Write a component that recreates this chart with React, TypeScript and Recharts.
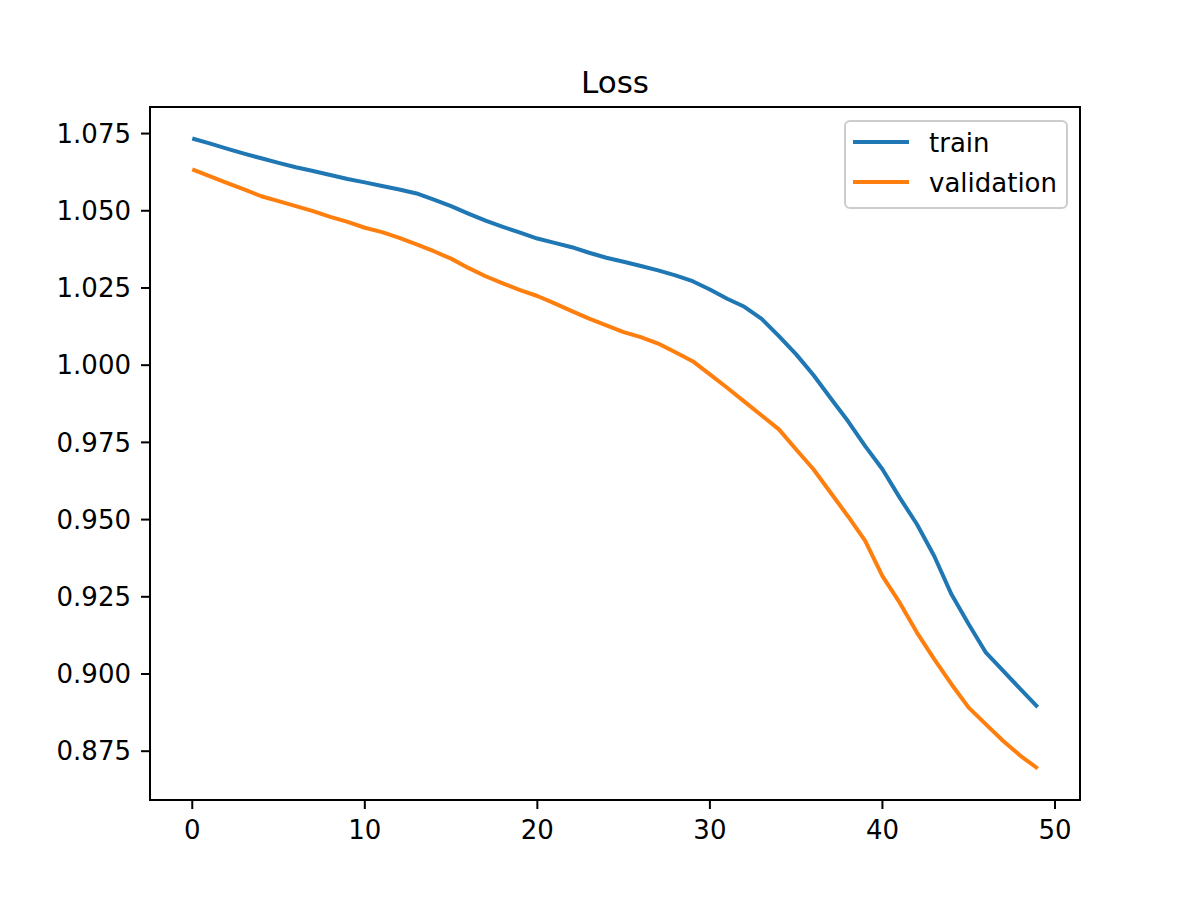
import React from 'react';
import { LineChart, Line, XAxis, YAxis, Legend, ReferenceArea } from 'recharts';

const epochs = Array.from({ length: 50 }, (_, i) => i);

const trainLoss = [
  1.0734, 1.0718, 1.0701, 1.0685, 1.0670, 1.0655, 1.0641, 1.0629, 1.0616, 1.0603,
  1.0592, 1.0580, 1.0569, 1.0556, 1.0536, 1.0515, 1.0491, 1.0468, 1.0448, 1.0429,
  1.0410, 1.0396, 1.0382, 1.0364, 1.0348, 1.0335, 1.0321, 1.0307, 1.0291, 1.0272,
  1.0245, 1.0215, 1.0189, 1.0150, 1.0094, 1.0035, 0.9968, 0.9893, 0.9819, 0.9738,
  0.9663, 0.9571, 0.9485, 0.9382, 0.9258, 0.9161, 0.9069, 0.9010, 0.8951, 0.8893,
];

const validationLoss = [
  1.0634, 1.0612, 1.0590, 1.0569, 1.0547, 1.0531, 1.0515, 1.0499, 1.0480, 1.0464,
  1.0445, 1.0431, 1.0412, 1.0391, 1.0369, 1.0345, 1.0315, 1.0288, 1.0265, 1.0243,
  1.0224, 1.0200, 1.0175, 1.0151, 1.0129, 1.0107, 1.0091, 1.0070, 1.0042, 1.0013,
  0.9970, 0.9927, 0.9882, 0.9837, 0.9792, 0.9727, 0.9663, 0.9587, 0.9511, 0.9431,
  0.9317, 0.9231, 0.9134, 0.9048, 0.8967, 0.8891, 0.8837, 0.8783, 0.8735, 0.8694,
];

const xTicks = [0, 10, 20, 30, 40, 50];
const yTicks = [0.875, 0.9, 0.925, 0.95, 0.975, 1.0, 1.025, 1.05, 1.075];

const xDomain: [number, number] = [-2.45, 51.45];
const yDomain: [number, number] = [0.8592, 1.0836];

const chartTitle = 'Loss';
const trainName = 'train';
const validationName = 'validation';

const data = epochs.map((e, i) => ({
  epoch: e,
  train: trainLoss[i],
  validation: validationLoss[i],
}));

const FONT = "'DejaVu Sans', sans-serif";
const tickStyle = { fill: '#000', fontSize: 26, fontFamily: FONT };

const renderLegend = (props: any) => {
  const items = (props && props.payload) || [];
  return (
    <svg width={224} height={89} style={{ display: 'block' }}>
      <rect
        x={1}
        y={1}
        width={222}
        height={87}
        rx={5}
        ry={5}
        fill="#ffffff"
        fillOpacity={0.8}
        stroke="#cccccc"
        strokeWidth={2}
      />
      {items.map((it: any, i: number) => (
        <g key={i}>
          <line
            x1={9}
            x2={65}
            y1={22 + 40 * i}
            y2={22 + 40 * i}
            stroke={it.color}
            strokeWidth={4}
          />
          <text x={85} y={31.7 + 40 * i} fontSize={26} fontFamily={FONT} fill="#000">
            {it.value}
          </text>
        </g>
      ))}
    </svg>
  );
};

export default function App() {
  return (
    <div
      style={{
        position: 'absolute',
        left: 0,
        top: 0,
        width: 1200,
        height: 900,
        background: '#ffffff',
      }}
    >
      <LineChart
        width={1200}
        height={900}
        data={data}
        margin={{ top: 107, right: 120, bottom: 40, left: 0 }}
      >
        <XAxis
          dataKey="epoch"
          type="number"
          domain={xDomain}
          ticks={xTicks}
          allowDataOverflow
          height={60}
          tick={tickStyle}
          tickSize={9}
          tickMargin={12}
          axisLine={{ stroke: '#000', strokeWidth: 2 }}
          tickLine={{ stroke: '#000', strokeWidth: 2 }}
        />
        <YAxis
          type="number"
          domain={yDomain}
          ticks={yTicks}
          allowDataOverflow
          width={150}
          tick={tickStyle}
          tickSize={9}
          tickMargin={10}
          tickFormatter={(v: number) => v.toFixed(3)}
          axisLine={{ stroke: '#000', strokeWidth: 2 }}
          tickLine={{ stroke: '#000', strokeWidth: 2 }}
        />
        <ReferenceArea
          x1={xDomain[0]}
          x2={xDomain[1]}
          y1={yDomain[0]}
          y2={yDomain[1]}
          fill="none"
          fillOpacity={0}
          stroke="#000"
          strokeWidth={2}
          ifOverflow="visible"
        />
        <Line
          type="linear"
          dataKey="train"
          name={trainName}
          stroke="#1f77b4"
          strokeWidth={4}
          strokeLinejoin="round"
          dot={false}
          activeDot={false}
          isAnimationActive={false}
        />
        <Line
          type="linear"
          dataKey="validation"
          name={validationName}
          stroke="#ff7f0e"
          strokeWidth={4}
          strokeLinejoin="round"
          dot={false}
          activeDot={false}
          isAnimationActive={false}
        />
        <Legend
          layout="horizontal"
          verticalAlign="middle"
          align="center"
          content={renderLegend}
          wrapperStyle={{
            position: 'absolute',
            left: 844,
            top: 120,
            width: 224,
            height: 89,
            margin: 0,
            padding: 0,
          }}
        />
      </LineChart>
      <svg
        width={1200}
        height={900}
        style={{ position: 'absolute', left: 0, top: 0, pointerEvents: 'none' }}
      >
        <text x={615} y={93} textAnchor="middle" fontSize={31} fontFamily={FONT} fill="#000">
          {chartTitle}
        </text>
      </svg>
    </div>
  );
}
